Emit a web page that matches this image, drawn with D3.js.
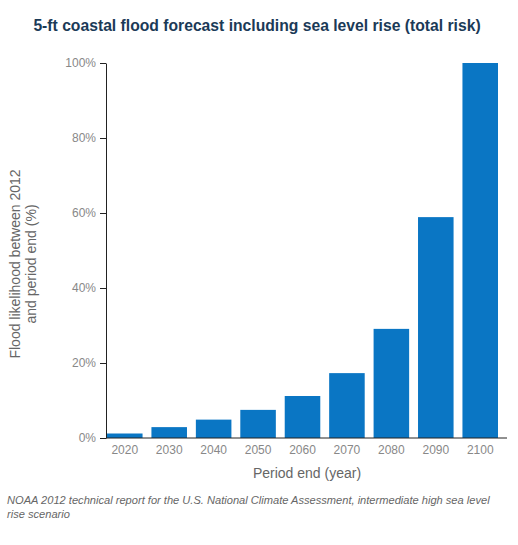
<!DOCTYPE html>
<html>
<head>
<meta charset="utf-8">
<script src="https://cdn.jsdelivr.net/npm/d3@7"></script>
<style>
  body { margin: 0; background: #fff; }
  svg { display: block; font-family: "Liberation Sans", Arial, sans-serif; }
</style>
</head>
<body>
<div id="chart"></div>
<script>
(function () {
    const years = ["2020", "2030", "2040", "2050", "2060", "2070", "2080", "2090", "2100"];
    const likelihood = [1.2, 2.9, 4.9, 7.5, 11.2, 17.3, 29.1, 58.9, 100];
    const yTicks = [0, 20, 40, 60, 80, 100];

    const width = 518;
    const height = 545;
    const plot = { left: 106, right: 507, top: 63, bottom: 438 };

    const svg = d3.select("#chart")
        .append("svg")
        .attr("width", width)
        .attr("height", height);

    const x = d3.scaleBand()
        .domain(years)
        .range([107, 498])
        .paddingInner(0.2)
        .paddingOuter(0);

    const y = d3.scaleLinear()
        .domain([0, 100])
        .range([plot.bottom, plot.top]);

    // title
    svg.append("text")
        .attr("x", 257)
        .attr("y", 31)
        .attr("text-anchor", "middle")
        .style("font-size", "15.7px")
        .style("font-weight", "bold")
        .style("fill", "#1b3a57")
        .text("5-ft coastal flood forecast including sea level rise (total risk)");

    // bars
    svg.append("g")
        .selectAll("rect")
        .data(years)
        .enter().append("rect")
        .attr("x", d => x(d))
        .attr("y", (d, i) => y(likelihood[i]))
        .attr("width", x.bandwidth())
        .attr("height", (d, i) => y(0) - y(likelihood[i]))
        .style("fill", "#0a76c4");

    // y axis
    const yAxis = svg.append("g")
        .attr("transform", `translate(${plot.left},0)`)
        .call(d3.axisLeft(y).tickValues(yTicks).tickSize(6).tickSizeOuter(0).tickFormat(d => d + "%"));
    yAxis.select(".domain").attr("stroke", "#222");
    yAxis.selectAll(".tick line").attr("stroke", "#222");
    yAxis.selectAll(".tick text")
        .attr("x", -10)
        .style("font-size", "12px")
        .style("font-family", "'Liberation Sans', Arial, sans-serif")
        .style("fill", "#888");

    // x axis
    const xAxis = svg.append("g")
        .attr("transform", `translate(0,${plot.bottom})`)
        .call(d3.axisBottom(x).tickSize(0).tickSizeOuter(0));
    xAxis.select(".domain").remove();
    xAxis.append("line")
        .attr("x1", plot.left)
        .attr("x2", plot.right)
        .attr("stroke", "#222");
    xAxis.selectAll(".tick text")
        .attr("y", 7)
        .style("font-size", "12px")
        .style("font-family", "'Liberation Sans', Arial, sans-serif")
        .style("fill", "#888");

    // axis titles
    const yTitle = svg.append("text")
        .attr("transform", "translate(21,264) rotate(-90)")
        .attr("text-anchor", "middle")
        .style("font-size", "14px")
        .style("fill", "#666");
    yTitle.append("tspan").attr("x", 0).attr("dy", "-0.1em").text("Flood likelihood between 2012");
    yTitle.append("tspan").attr("x", 0).attr("dy", "1.15em").text("and period end (%)");

    svg.append("text")
        .attr("x", 307)
        .attr("y", 478)
        .attr("text-anchor", "middle")
        .style("font-size", "14px")
        .style("fill", "#666")
        .text("Period end (year)");

    // source note
    const note = svg.append("text")
        .attr("x", 7)
        .attr("y", 504)
        .style("font-size", "11.1px")
        .style("font-style", "italic")
        .style("fill", "#666");
    note.append("tspan").attr("x", 7).text("NOAA 2012 technical report for the U.S. National Climate Assessment, intermediate high sea level");
    note.append("tspan").attr("x", 7).attr("dy", 14).text("rise scenario");
})();
</script>
</body>
</html>
